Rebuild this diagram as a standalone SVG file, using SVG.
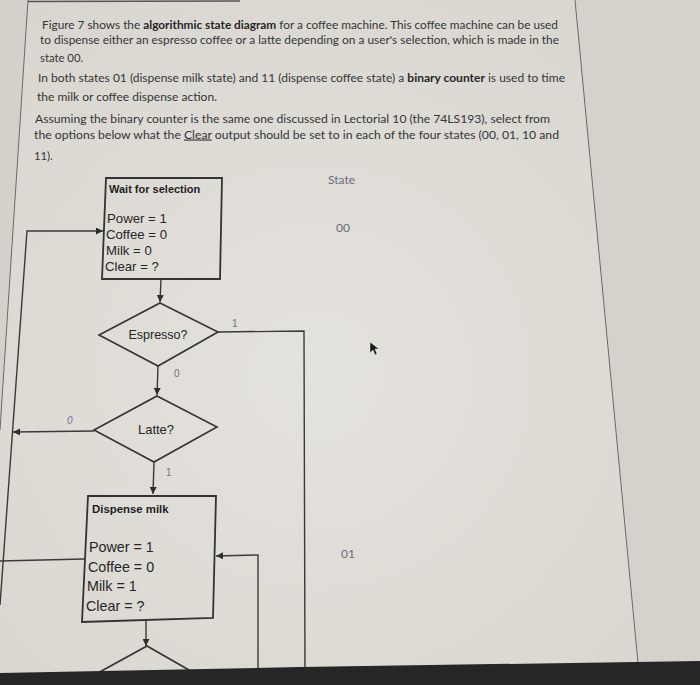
<svg xmlns="http://www.w3.org/2000/svg" width="700" height="685" viewBox="0 0 700 685">
<defs>
<radialGradient id="bg" cx="0.45" cy="0.55" r="0.8">
<stop offset="0" stop-color="#e4e2dc"/>
<stop offset="1" stop-color="#d6d4cd"/>
</radialGradient>
<marker id="ah" viewBox="0 0 10 10" refX="10" refY="5" markerWidth="7" markerHeight="7" markerUnits="userSpaceOnUse" orient="auto">
<path d="M0,0 L10,5 L0,10 z" fill="#2e2e2e"/>
</marker>
<style>
.para{font-family:Lato,"Open Sans","Liberation Sans",sans-serif;font-size:11.3px;fill:#353535}
.b{font-weight:bold;fill:#262626}
.box{fill:none;stroke:#333;stroke-width:1.8}
.dia{fill:none;stroke:#333;stroke-width:1.6}
.wire{fill:none;stroke:#3a3a3a;stroke-width:1.4}
.t{font-family:"Liberation Sans",Arial,sans-serif;fill:#262626}
.title{font-family:"Liberation Sans",Arial,sans-serif;font-weight:bold;fill:#1e1e1e}
.lbl{font-family:"Liberation Sans",Arial,sans-serif;font-size:10px;fill:#6e7186}
.st{font-family:Lato,"Liberation Sans",sans-serif;font-size:12px;fill:#6a6c80}
.edge{stroke:#6a6a6a;stroke-width:1;fill:none}
</style>
</defs>
<rect width="700" height="685" fill="url(#bg)"/>
<polygon points="575,0 700,0 700,662 638,663" fill="#d4d2cb"/>
<polygon points="0,0 28,0 0,430" fill="#d3d1ca"/>
<g id="page-edges">
<line class="edge" x1="575" y1="0" x2="638" y2="663"/>
<line class="edge" x1="28" y1="0" x2="0" y2="430"/>
<line x1="28" y1="1.5" x2="240" y2="1" stroke="#555" stroke-width="1.5"/>
</g>
<g id="question">
<text class="para" x="42" y="28.5" textLength="516" lengthAdjust="spacingAndGlyphs">Figure 7 shows the <tspan class="b">algorithmic state diagram</tspan> for a coffee machine. This coffee machine can be used</text>
<text class="para" x="40" y="43.5" textLength="519" lengthAdjust="spacingAndGlyphs">to dispense either an espresso coffee or a latte depending on a user's selection, which is made in the</text>
<text class="para" x="40" y="62">state 00.</text>
<text class="para" x="38" y="82" textLength="527" lengthAdjust="spacingAndGlyphs">In both states 01 (dispense milk state) and 11 (dispense coffee state) a <tspan class="b">binary counter</tspan> is used to time</text>
<text class="para" x="37" y="100.5" textLength="180" lengthAdjust="spacingAndGlyphs">the milk or coffee dispense action.</text>
<text class="para" x="35" y="122.5" textLength="515" lengthAdjust="spacingAndGlyphs">Assuming the binary counter is the same one discussed in Lectorial 10 (the 74LS193), select from</text>
<text class="para" x="34" y="138.5" textLength="525" lengthAdjust="spacingAndGlyphs">the options below what the <tspan text-decoration="underline">Clear</tspan> output should be set to in each of the four states (00, 01, 10 and</text>
<text class="para" x="34" y="160">11).</text>
</g>
<g id="state-column">
<text class="st" x="328" y="184">State</text>
<text class="st" x="336" y="232">00</text>
<text class="st" x="341" y="558">01</text>
</g>
<g id="connectors">
<line class="wire" x1="161" y1="279" x2="160" y2="302" marker-end="url(#ah)"/>
<polyline class="wire" points="218,332 304,331 305,673"/>
<line class="wire" x1="158" y1="366" x2="157" y2="395" marker-end="url(#ah)"/>
<line class="wire" x1="94" y1="431" x2="13" y2="432" marker-end="url(#ah)"/>
<line class="wire" x1="154" y1="462" x2="153" y2="494" marker-end="url(#ah)"/>
<polyline class="wire" points="0,605 27,231 103,231" marker-end="url(#ah)"/>
<line class="wire" x1="0" y1="561" x2="84" y2="559"/>
<line class="wire" x1="146" y1="620" x2="146" y2="646" marker-end="url(#ah)"/>
<polyline class="wire" points="258,673 258,555 216,556" marker-end="url(#ah)"/>
<text class="lbl" x="232" y="327">1</text>
<text class="lbl" x="174" y="377">0</text>
<text class="lbl" x="67" y="424" font-style="italic">0</text>
<text class="lbl" x="166" y="476">1</text>
</g>
<g id="wait-for-selection">
<polygon class="box" points="106,178 222,178 220,279 102,279"/>
<text class="title" x="109" y="193" font-size="11">Wait for selection</text>
<text class="t" x="107" y="223" font-size="13.2">Power = 1</text>
<text class="t" x="106" y="239" font-size="13.2">Coffee = 0</text>
<text class="t" x="106" y="255" font-size="13.2">Milk = 0</text>
<text class="t" x="105" y="271" font-size="13.2">Clear = ?</text>
</g>
<g id="espresso">
<polygon class="dia" points="160,303 218,332 158,366 99,335"/>
<text class="t" x="158" y="339" font-size="12.5" text-anchor="middle">Espresso?</text>
</g>
<g id="latte">
<polygon class="dia" points="157,396 217,427 154,462 94,430"/>
<text class="t" x="156" y="434" font-size="13" text-anchor="middle">Latte?</text>
</g>
<g id="dispense-milk">
<polygon class="box" points="88,496 216,496 213,618 82,622"/>
<text class="title" x="92" y="513" font-size="11.4">Dispense milk</text>
<text class="t" x="89" y="552" font-size="14.3">Power = 1</text>
<text class="t" x="88" y="572" font-size="14.3">Coffee = 0</text>
<text class="t" x="87" y="591" font-size="14.3">Milk = 1</text>
<text class="t" x="86" y="611" font-size="14.3">Clear = ?</text>
</g>
<g id="next-decision">
<polyline class="dia" points="96,674 147,646 196,674"/>
</g>
<g id="cursor">
<polygon points="370,342 370,353 373,350 375,355 377,354 375,349 379,349" fill="#1a1a1a" stroke="#eee" stroke-width="0.5"/>
</g>
<polygon id="bezel" points="0,673 300,667 700,661 700,685 0,685" fill="#262626"/>
</svg>
